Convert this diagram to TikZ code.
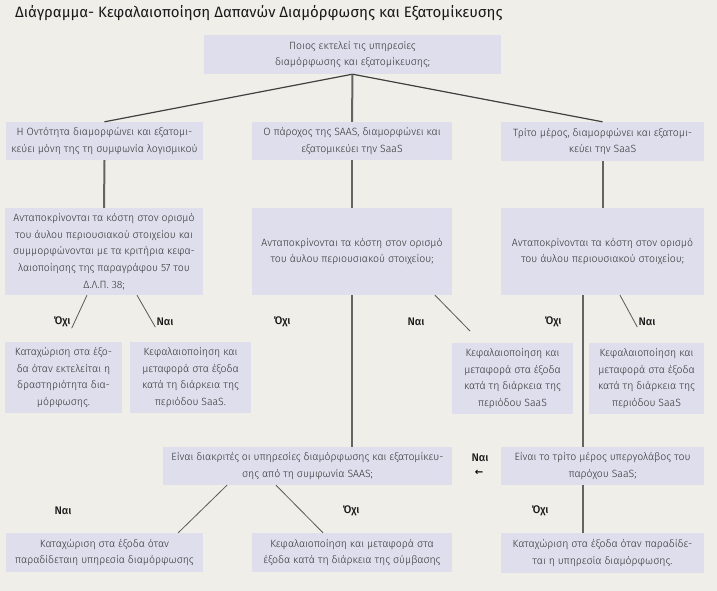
\documentclass[tikz,border=0pt]{standalone}
\usepackage{fontspec}
\setmainfont{Fira Sans}
\newfontfamily\lightfont{Fira Sans Light}
\newfontfamily\mediumfont{Fira Sans Medium}
\newfontfamily\arrowfont{DejaVu Sans}
\definecolor{bgcol}{RGB}{239,238,233}
\definecolor{boxcol}{RGB}{222,222,237}
\definecolor{txtcol}{RGB}{50,50,50}
\definecolor{linecol}{RGB}{100,100,100}

\tikzset{
  box/.style={fill=boxcol,inner sep=0pt,align=center,text=txtcol,font=\lightfont\fontsize{10.5}{16.7}\selectfont},
  answer/.style={font=\mediumfont\fontsize{11}{13}\selectfont,text=black!90,inner sep=1pt},
  trunk/.style={draw=linecol,line width=2pt},
  branch/.style={draw=black!75,line width=1.2pt},
  twig/.style={draw=black!65,line width=0.8pt}
}

\begin{document}
\begin{tikzpicture}[x=1pt,y=-1pt]

\fill[bgcol] (0,0) rectangle (717,591);
\useasboundingbox (0,0) rectangle (717,591);

\node[anchor=base west,inner sep=0pt,text=black!90,font=\fontsize{15}{17}\selectfont] (title) at (15,18) {Διάγραμμα- Κεφαλαιοποίηση Δαπανών Διαμόρφωσης και Εξατομίκευσης};

% question and who does the work
\node[box,minimum width=297,minimum height=39] (who) at (352.5,54.5) {Ποιος εκτελεί τις υπηρεσίες\\διαμόρφωσης και εξατομίκευσης;};

\node[box,minimum width=197,minimum height=38] (entity) at (104.5,141) {Η Οντότητα διαμορφώνει και εξατομι-\\κεύει μόνη της τη συμφωνία λογισμικού};
\node[box,minimum width=200,minimum height=38] (provider) at (352,141) {Ο πάροχος της SAAS, διαμορφώνει και\\εξατομικεύει την SaaS};
\node[box,minimum width=203,minimum height=39] (third) at (602.5,141.5) {Τρίτο μέρος, διαμορφώνει και εξατομι-\\κεύει την SaaS};

% intangible asset tests
\node[box,minimum width=198,minimum height=87] (critA) at (104,251.5) {Ανταποκρίνονται τα κόστη στον ορισμό\\του άυλου περιουσιακού στοιχείου και\\συμμορφώνονται με τα κριτήρια κεφα-\\λαιοποίησης της παραγράφου 57 του\\Δ.Λ.Π. 38;};
\node[box,minimum width=200,minimum height=87] (critB) at (352,251.5) {Ανταποκρίνονται τα κόστη στον ορισμό\\του άυλου περιουσιακού στοιχείου;};
\node[box,minimum width=203,minimum height=87] (critC) at (602.5,251.5) {Ανταποκρίνονται τα κόστη στον ορισμό\\του άυλου περιουσιακού στοιχείου;};

\node[box,minimum width=117,minimum height=71] (expA) at (63.5,377.5) {Καταχώριση στα έξο-\\δα όταν εκτελείται η\\δραστηριότητα δια-\\μόρφωσης.};
\node[box,minimum width=121,minimum height=71] (capA) at (190.5,377.5) {Κεφαλαιοποίηση και\\μεταφορά στα έξοδα\\κατά τη διάρκεια της\\περιόδου SaaS.};
\node[box,minimum width=121,minimum height=71] (capB) at (512.5,378.5) {Κεφαλαιοποίηση και\\μεταφορά στα έξοδα\\κατά τη διάρκεια της\\περιόδου SaaS};
\node[box,minimum width=115,minimum height=71] (capC) at (646.5,378.5) {Κεφαλαιοποίηση και\\μεταφορά στα έξοδα\\κατά τη διάρκεια της\\περιόδου SaaS};

% distinct services / subcontractor
\node[box,minimum width=289,minimum height=38] (distinct) at (307.5,466) {Είναι διακριτές οι υπηρεσίες διαμόρφωσης και εξατομίκευ-\\σης από τη συμφωνία SAAS;};
\node[box,minimum width=203,minimum height=38] (subcon) at (602.5,466) {Είναι το τρίτο μέρος υπεργολάβος του\\παρόχου SaaS;};

\node[box,minimum width=197,minimum height=39] (expD) at (104.5,552.5) {Καταχώριση στα έξοδα όταν\\παραδίδεταιη υπηρεσία διαμόρφωσης};
\node[box,minimum width=200,minimum height=39] (capD) at (352,552.5) {Κεφαλαιοποίηση και μεταφορά στα\\έξοδα κατά τη διάρκεια της σύμβασης};
\node[box,minimum width=203,minimum height=40] (expE) at (602.5,553) {Καταχώριση στα έξοδα όταν παραδίδε-\\ται η υπηρεσία διαμόρφωσης.};

% yes / no labels
\node[answer] (noA) at (62,322) {Όχι};
\node[answer] (yesA) at (165,322) {Ναι};
\node[answer] (noB) at (282,322) {Όχι};
\node[answer] (yesB) at (416,322) {Ναι};
\node[answer] (noC) at (553,322) {Όχι};
\node[answer] (yesC) at (647,322) {Ναι};
\node[answer] (yesD) at (63,511) {Ναι};
\node[answer] (noD) at (351,511) {Όχι};
\node[answer] (noE) at (540,511) {Όχι};
\node[answer] (yesE) at (480,458) {Ναι};
\node[inner sep=0pt,font=\arrowfont\bfseries\fontsize{10}{11}\selectfont] (back) at (479,473) {←};

\coordinate (rline) at (583,0);
\coordinate (capBend) at (470,331);

% connectors
\draw[branch] (who.south) -- (entity.north);
\draw[trunk] (who.south) -- (provider.north);
\draw[branch] (who.south) -- (third.north);

\draw[trunk] (entity.south) -- (critA.north);
\draw[trunk] (provider.south) -- (critB.north);
\draw[trunk] (third.south) -- (critC.north);

\draw[twig] ([xshift=-17]critA.south) -- (noA.south east);
\draw[twig] ([xshift=33]critA.south) -- (yesA.south west);
\draw[twig] ([xshift=83]critB.south) -- (capBend);
\draw[twig] ([xshift=17.5]critC.south) -- (yesC.south west);

\draw[trunk] (critB.south) -- (critB.south |- distinct.north);
\draw[trunk] (critC.south -| rline) -- (subcon.north -| rline);
\draw[trunk] (subcon.south -| rline) -- (expE.north -| rline);

\draw[twig] ([xshift=-80.5]distinct.south) -- ([xshift=-25]expD.north east);
\draw[twig] ([xshift=-31.5]distinct.south) -- ([xshift=-29]capD.north);

\end{tikzpicture}
\end{document}
